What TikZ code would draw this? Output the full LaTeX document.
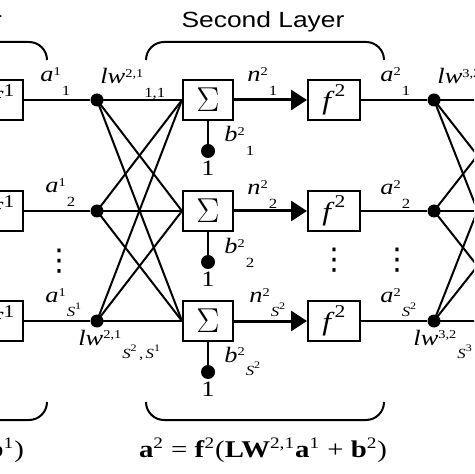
\documentclass[tikz,border=0pt]{standalone}
\usepackage{fontspec}
\setmainfont[FakeStretch=1.2]{Liberation Serif}
\setsansfont[FakeStretch=1.2]{Liberation Sans}
\newfontfamily\symfont{DejaVu Sans}
\usetikzlibrary{arrows.meta, positioning}

\newcommand{\wlab}[3]{\textit{#1}\raisebox{0.3em}{\fontsize{6}{6}\selectfont #2}\kern0.5pt\raisebox{-0.6em}{\fontsize{7}{7}\selectfont #3}}
\newcommand{\sidx}[1]{\textit{S}\raisebox{0.45em}{\fontsize{5}{5}\selectfont #1}}

\begin{document}
\begin{tikzpicture}[x=0.5pt, y=-0.5pt,
    unit/.style={rectangle, draw=black, line width=1pt, minimum width=26pt,
                 minimum height=20pt, inner sep=0pt},
    sumbox/.style={unit, minimum width=25pt, font=\fontsize{19}{20}\selectfont},
    tfbox/.style={unit, font=\fontsize{13}{14}\selectfont},
    junc/.style={circle, fill=black, inner sep=0pt, minimum size=6.5pt},
    bdot/.style={circle, fill=black, inner sep=0pt, minimum size=7pt},
    lab/.style={anchor=base west, inner sep=0pt, font=\fontsize{11}{13}\selectfont},
    more/.style={inner sep=0pt, font=\symfont\fontsize{15}{15}\selectfont},
    wire/.style={line width=1pt},
    arrow/.style={-{Triangle[length=8pt, width=10pt]}, line width=1.5pt},
    brace/.style={line width=1pt, rounded corners=9pt}
]
    \useasboundingbox (0,0) rectangle (474,474);
    \clip (0,0) rectangle (474,474);

    % layer titles and brackets
    \node[anchor=base east, font=\sffamily\fontsize{11}{13}\selectfont] (title1) at (9,28) {First Layer};
    \node[anchor=base, font=\sffamily\fontsize{11}{13}\selectfont] (title2) at (263,28) {Second Layer};
    \draw[brace] (-200,60) -- (-200,42) -- (47,42) -- (47,60);
    \draw[brace] (146,60) -- (146,42) -- (384,42) -- (384,60);
    \draw[brace] (-200,402) -- (-200,420) -- (47,420) -- (47,402);
    \draw[brace] (146,402) -- (146,420) -- (384,420) -- (384,402);

    % neurons
    \foreach \i/\y in {1/100, 2/211, 3/321} {
        \node[tfbox, minimum width=20pt] (l\i) at (3,\y) {\textit{f}\raisebox{0.5em}{\fontsize{9}{9}\selectfont 1}};
        \node[junc] (ja\i) at (97,\y) {};
        \node[sumbox] (s\i) at (208,\y) {$\Sigma$};
        \node[bdot] (bd\i) at (208,\y+51) {};
        \node[font=\fontsize{11}{13}\selectfont] (one\i) at (208,\y+68) {1};
        \node[tfbox] (f\i) at (334,\y) {\textit{f}\raisebox{0.5em}{\fontsize{9}{9}\selectfont 2}};
        \node[junc] (jb\i) at (434,\y) {};
        \coordinate (nx\i) at (521,\y);
        \draw[wire] (l\i) -- (ja\i);
        \draw[wire] (s\i) -- (bd\i);
        \draw[arrow] (s\i) -- (f\i);
        \draw[wire] (f\i) -- (jb\i);
    }
    \foreach \i in {1,2,3} \foreach \j in {1,2,3} {
        \draw[wire] (ja\i.center) -- (s\j.west);
        \draw[wire] (jb\i.center) -- (nx\j);
    }

    \node[more] (dl) at (59,261) {⋮};
    \node[more] (df) at (334,260) {⋮};
    \node[more] (da) at (397,260) {⋮};

    % labels
    \node[lab] (a11) at (40,82) {\wlab{a}{1}{1}};
    \node[lab] (a12) at (45,193) {\wlab{a}{1}{2}};
    \node[lab] (a13) at (45,303) {\wlab{a}{1}{\sidx{1}}};
    \node[lab] (lw1) at (100,84) {\wlab{lw}{2,1}{1,1}};
    \node[lab] (lw2) at (78,345) {\wlab{lw}{2,1}{\sidx{2}\,,\,\sidx{1}}};
    \node[lab] (n1) at (247,82) {\wlab{n}{2}{1}};
    \node[lab] (n2) at (247,195) {\wlab{n}{2}{2}};
    \node[lab] (n3) at (249,303) {\wlab{n}{2}{\sidx{2}}};
    \node[lab] (b1) at (224,142) {\wlab{b}{2}{1}};
    \node[lab] (b2) at (224,254) {\wlab{b}{2}{2}};
    \node[lab] (b3) at (224,362) {\wlab{b}{2}{\sidx{2}}};
    \node[lab] (a21) at (380,82) {\wlab{a}{2}{1}};
    \node[lab] (a22) at (380,195) {\wlab{a}{2}{2}};
    \node[lab] (a23) at (380,303) {\wlab{a}{2}{\sidx{2}}};
    \node[lab] (lw3) at (437,84) {\wlab{lw}{3,2}{}};
    \node[lab] (lw4) at (413,345) {\wlab{lw}{3,2}{\sidx{3}}};

    % layer equations
    \node[anchor=base east, font=\fontsize{12}{14}\selectfont] (eq1) at (31,457)
        {\textbf{a}\textsuperscript{1} = \textbf{f}\textsuperscript{1}(\textbf{IW}\textsuperscript{1,1}\textbf{p}\textsuperscript{1} + \textbf{b}\textsuperscript{1})};
    \node[anchor=base, font=\fontsize{12}{14}\selectfont] (eq2) at (263,457)
        {\textbf{a}\textsuperscript{2} = \textbf{f}\textsuperscript{2}(\textbf{LW}\textsuperscript{2,1}\textbf{a}\textsuperscript{1} + \textbf{b}\textsuperscript{2})};
\end{tikzpicture}
\end{document}
